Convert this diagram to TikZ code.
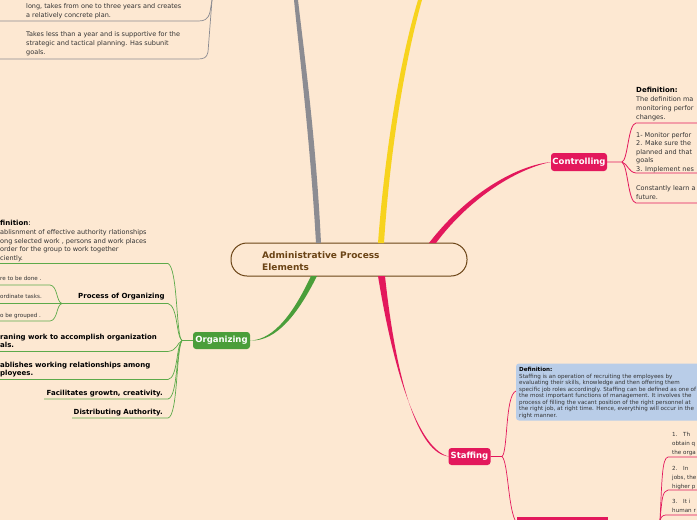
\documentclass[tikz,border=0pt]{standalone}
\usepackage{fontspec}
\setmainfont{DejaVu Sans}
\definecolor{bg}{HTML}{FDE8D2}
\definecolor{brn}{HTML}{6B4416}
\definecolor{grey1}{HTML}{8C8C92}
\definecolor{yel}{HTML}{F7D31E}
\definecolor{rd}{HTML}{E3185C}
\definecolor{gr}{HTML}{4A9E3A}
\definecolor{lgr}{HTML}{5DAA4A}
\definecolor{blu}{HTML}{B9CDE8}
\definecolor{txt}{HTML}{333333}
\tikzset{
 t/.style={anchor=base west,inner sep=0pt,text=txt,font=\fontsize{6.5}{8}\selectfont},
 ts/.style={anchor=base west,inner sep=0pt,text=txt,font=\fontsize{5.6}{7}\selectfont},
 tb/.style={anchor=base west,inner sep=0pt,text=black,font=\fontsize{7}{8}\selectfont\bfseries},
 ttl/.style={anchor=base west,inner sep=0pt,text=brn,font=\fontsize{9}{11}\selectfont\bfseries},
 topic/.style={rounded corners=3pt,text=white,font=\fontsize{8.5}{10}\selectfont\bfseries,minimum height=18pt,inner sep=0pt},
}
\begin{document}
\begin{tikzpicture}[x=1pt,y=-1pt]
\fill[bg] (0,0) rectangle (697,520);
\useasboundingbox (0,0) rectangle (697,520);
% central
\node[draw=brn,line width=1pt,rounded corners=16pt,minimum width=236pt,minimum height=33pt,inner sep=0pt] (c) at (349,259.5) {};
\node[ttl] (ct1) at (262,258) {Administrative Process};
\node[ttl] (ct2) at (262,270) {Elements};
% topics
\node[topic,fill=rd,minimum width=56pt] (ctl) at (579,162) {Controlling};
\node[topic,fill=rd,minimum width=42pt,minimum height=17pt] (stf) at (469.5,456.5) {Staffing};
\node[topic,fill=gr,minimum width=57pt,minimum height=17pt] (org) at (221.5,340.5) {Organizing};
% main branches
\fill[grey1] (316,243) .. controls (310,140) and (300,60) .. (294,0) -- (298,0) .. controls (305,60) and (316,140) .. (321,243) -- cycle;
\fill[yel] (378,243) .. controls (385,150) and (400,60) .. (418,0) -- (422,0) .. controls (405,60) and (390,150) .. (384,243) -- cycle;
\fill[rd] (429,243) .. controls (470,190) and (520,165) .. (551,162) .. controls (520,168) and (472,195) .. (436,243) -- cycle;
\fill[rd] (378,276) .. controls (395,380) and (420,450) .. (449,456.5) .. controls (418,454) and (396,380) .. (385,276) -- cycle;
\fill[gr] (311,276) .. controls (295,310) and (275,340) .. (250,340.5) .. controls (277,342) and (299,312) .. (317,276) -- cycle;
% grey sub-branches top-left
\coordinate (gb) at (212,0);
\draw[grey1,line width=0.7pt] (gb) -- (210,12) .. controls (208,20) and (204,21) .. (198,21) -- (0,21);
\draw[grey1,line width=0.7pt] (gb) -- (208,52) .. controls (207,58) and (203,59) .. (198,59) -- (0,59);
\node[t] at (26,8) {long, takes from one to three years and creates};
\node[t] at (26,17) {a relatively concrete plan.};
\node[t] at (26,36) {Takes less than a year and is supportive for the};
\node[t] at (26,45) {strategic and tactical planning. Has subunit};
\node[t] at (26,54) {goals.};
% controlling children
\draw[rd,line width=0.8pt] (ctl.east) -- (622,162) .. controls (628,160) and (628,124) .. (636,123) -- (697,123);
\draw[rd,line width=0.8pt] (622,162) .. controls (628,164) and (628,172) .. (636,173) -- (697,173);
\draw[rd,line width=0.8pt] (622,162) .. controls (628,166) and (628,202) .. (636,203) -- (697,203);
\node[tb] at (636,92) {Definition:};
\node[t] at (636,101) {The definition  ma};
\node[t] at (636,110) {monitoring perfor};
\node[t] at (636,119) {changes.};
\node[t] at (636,137) {1- Monitor perfor};
\node[t] at (636,145.5) {2. Make sure the};
\node[t] at (636,154) {planned and that};
\node[t] at (636,162.5) {goals};
\node[t] at (636,171) {3. Implement nes};
\node[t] at (636,190) {Constantly learn a};
\node[t] at (636,199) {future.};
% staffing
\node[fill=blu,rounded corners=3pt,minimum width=190pt,minimum height=57pt,inner sep=0pt] (sdef) at (611,392) {};
\node[anchor=base west,inner sep=0pt,text=black,font=\fontsize{5.6}{7}\selectfont\bfseries] at (519,371) {Definition:};
\node[ts] at (519,378) {Staffing is an operation of recruiting the employees by};
\node[ts] at (519,384.5) {evaluating their skills, knowledge and then offering them};
\node[ts] at (519,391) {specific job roles accordingly. Staffing can be defined as one of};
\node[ts] at (519,397.5) {the most important functions of management. It involves the};
\node[ts] at (519,404) {process of filling the vacant position of the right personnel at};
\node[ts] at (519,410.5) {the right job, at right time. Hence, everything will occur in the};
\node[ts] at (519,417) {right manner.};
\draw[rd,line width=0.7pt] (stf.east) -- (502,456.5) .. controls (508,452) and (505,395) .. (516,391);
\draw[rd,line width=0.7pt] (502,456.5) .. controls (508,462) and (508,505) .. (515,520);
\fill[rd] (517,517) rectangle (608,522);
\draw[rd,line width=0.7pt] (660,520) .. controls (662,480) and (662,458) .. (668,457) -- (697,457);
\draw[rd,line width=0.7pt] (660,520) .. controls (662,500) and (662,491) .. (668,490) -- (697,490);
\draw[rd,line width=0.7pt] (660,520) .. controls (662,515) and (664,515) .. (668,515) -- (697,515);
\node[ts] at (672,436) {1.\quad Th};
\node[ts] at (672,445) {obtain q};
\node[ts] at (672,454) {the orga};
\node[ts] at (672,470) {2.\quad In};
\node[ts] at (672,479) {jobs, the};
\node[ts] at (672,488) {higher p};
\node[ts] at (672,503) {3.\quad It i};
\node[ts] at (672,512) {human r};
% organizing children
\tikzset{gl/.style={lgr,line width=0.7pt}}
\draw[gl] (org.west) -- (182,340.5) .. controls (176,338) and (178,268) .. (168,263.5) -- (0,263.5);
\draw[gl] (182,340.5) .. controls (176,336) and (178,306) .. (168,303.5) -- (75,303.5);
\draw[gl] (182,340.5) .. controls (176,344) and (178,350) .. (168,351.5) -- (0,351.5);
\draw[gl] (182,340.5) .. controls (176,346) and (178,378) .. (168,379.5) -- (0,379.5);
\draw[gl] (182,340.5) .. controls (176,348) and (178,397) .. (168,399) -- (44,399);
\draw[gl] (182,340.5) .. controls (176,350) and (178,416) .. (168,418) -- (72,418);
\draw[gl,line width=1.2pt] (75,303.5) -- (62,303.5);
\draw[gl] (62,303.5) .. controls (56,302) and (58,286) .. (50,285) -- (0,285);
\draw[gl] (62,303.5) .. controls (56,303.5) and (56,303.5) .. (50,303.5) -- (0,303.5);
\draw[gl] (62,303.5) .. controls (56,305) and (58,320) .. (50,321) -- (0,321);
\node[tb] at (0,225) {finition\textmd{:}};
\node[t] at (0,234) {ablisnment of effective authority rlationships};
\node[t] at (0,243) {ong selected work , persons and work places};
\node[t] at (0,251.5) {order for the group to work together};
\node[t] at (0,260) {ciently.};
\node[ts] at (0,280) {re to be done .};
\node[ts] at (0,298) {ordinate tasks.};
\node[ts] at (0,317) {o be grouped .};
\node[tb] at (78,298) {Process of Organizing};
\node[tb] at (0,339) {raning work to accomplish organization};
\node[tb] at (0,347) {als.};
\node[tb] at (0,367) {ablishes working relationships among};
\node[tb] at (0,375) {ployees.};
\node[tb,anchor=base east] at (163,395) {Facilitates growtn, creativity.};
\node[tb,anchor=base east] at (163,414) {Distributing Authority.};
\end{tikzpicture}
\end{document}
